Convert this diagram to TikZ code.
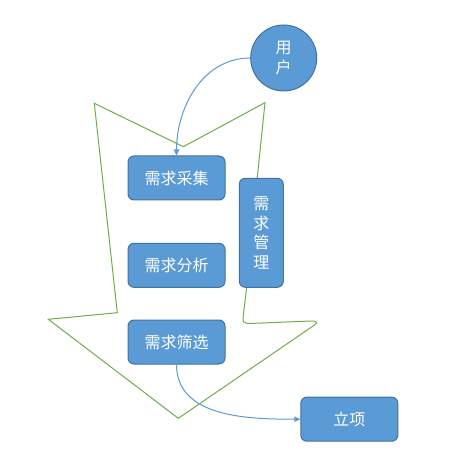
\documentclass[tikz,border=0pt]{standalone}
\usepackage{fontspec}
\setmainfont{Noto Sans CJK SC}
\usetikzlibrary{arrows.meta}
\definecolor{boxfill}{HTML}{5B9BD5}
\definecolor{boxline}{HTML}{41719C}
\definecolor{outline}{HTML}{70AD47}
\tikzset{
  box/.style={draw=boxline, fill=boxfill, line width=0.75pt, rounded corners=4.5pt,
    text=white, font=\fontsize{12pt}{14.6pt}\selectfont, inner sep=0pt, align=center},
  hbox/.style={box, minimum width=72.75pt, minimum height=33pt},
  conn/.style={draw=boxfill, line width=0.75pt, -{Triangle[length=4.5pt,width=4pt]}},
  bigarrow/.style={draw=outline, line width=0.75pt, line join=miter}
}
\begin{document}
\begin{tikzpicture}[x=0.75pt,y=-0.75pt]
\useasboundingbox (0,0) rectangle (474,452);
% big outline arrow
\draw[bigarrow] (94.3,103.3) -- (183.3,146.7) -- (265,102.7) -- (257.3,177.3) -- (246.7,287.3)
  -- (243,318) .. controls (242.6,322) and (244,323.5) .. (250,323.5)
  -- (311,321) .. controls (317,320.8) and (318,322.5) .. (314.5,325)
  -- (178.3,418.3) -- (48.3,319.3) -- (117.3,312.7) -- cycle;
% nodes
\node[hbox] (collect) at (176.5,178) {需求采集};
\node[hbox] (analyze) at (176.5,265.3) {需求分析};
\node[hbox] (screen) at (176.5,342) {需求筛选};
\node[box, minimum width=33pt, minimum height=81.75pt] (manage) at (261.3,232.8) {需\\求\\管\\理};
\node[hbox] (project) at (349.3,419.2) {立项};
\node[draw=boxline, fill=boxfill, line width=0.75pt, circle, minimum size=49.5pt, inner sep=0pt,
  text=white, font=\fontsize{12pt}{15pt}\selectfont, align=center] (user) at (283.7,58) {用\\户};
% connectors
\draw[conn] (user.west) to[out=180,in=90] (collect.north);
\draw[conn] (screen.south) to[out=-90,in=180] (project.west);
\end{tikzpicture}
\end{document}
